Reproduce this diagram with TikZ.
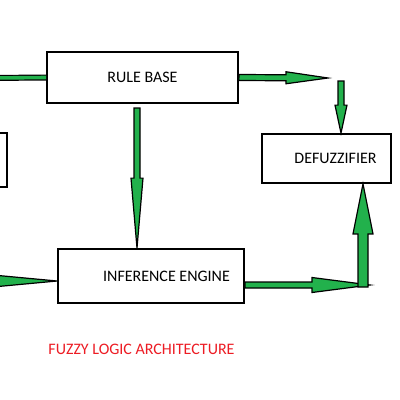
\documentclass[tikz,border=0pt]{standalone}
\usepackage{fontspec}
\setmainfont{Carlito}
\usetikzlibrary{calc}
\definecolor{flowgreen}{RGB}{34,177,76}
\definecolor{titlered}{RGB}{237,28,36}
\def\fatarrow[#1](#2)(#3)(#4:#5:#6){\coordinate (fa base) at ($(#3)!#5!(#2)$);
	\draw[#1] ($(#2)!#4!90:(#3)$) -- ($(fa base)!#4!90:(#3)$) -- ($(fa base)!#6!90:(#3)$) -- (#3) -- ($(fa base)!#6!-90:(#3)$) -- ($(fa base)!#4!-90:(#3)$) -- ($(#2)!#4!-90:(#3)$) -- cycle;}

\begin{document}
\begin{tikzpicture}[x=1pt, y=-1pt,
		block/.style={draw=black, line width=1.8pt, fill=white, inner sep=0pt, font=\fontsize{16}{19}\selectfont},
		fatflow/.style={draw=black, line width=1.2pt, fill=flowgreen, line join=miter},
		feedline/.style={draw=black, line width=1.2pt, double=flowgreen, double distance=3.6pt}]
			%%%%% START %%%%%
			
			\useasboundingbox (0, 0) rectangle (400, 400);
			\clip (0, 0) rectangle (400, 400);
			\fill[white] (0, 0) rectangle (400, 400);
			
			\node[block, minimum width=191pt, minimum height=51pt] (rulebase) at (142.5, 77.5) {RULE BASE};
			\node[block, minimum width=186pt, minimum height=54pt] (inference) at (151, 276) {\hspace*{31pt}INFERENCE ENGINE};
			\node[block, minimum width=129pt, minimum height=49pt] (defuzz) at (326.5, 158.5) {\hspace*{18pt}DEFUZZIFIER};
			\node[block, minimum width=80pt, minimum height=54pt] (fuzzifier) at (-33, 160) {};
			
			\coordinate (rb in) at (-10, 78);
			\coordinate (rb corner) at (328, 78);
			\coordinate (df top) at (341, 81);
			\coordinate (df entry) at (defuzz.north -| df top);
			\coordinate (rb out) at (137, 108);
			\coordinate (ie entry) at (inference.north -| rb out);
			\coordinate (ie in) at (-30, 281);
			\coordinate (ie feed) at (inference.west |- ie in);
			\coordinate (ie out) at (inference.east |- 0,285);
			\coordinate (df corner) at (370, 285);
			\coordinate (df low) at (363, 287);
			\coordinate (df bottom) at (defuzz.south -| df low);
			
			\draw[feedline] (rb in) -- (rulebase.west);
			\fatarrow[fatflow](rulebase.east)(rb corner)(3pt:42pt:6pt)
			\fatarrow[fatflow](df top)(df entry)(3pt:28pt:6pt)
			\fatarrow[fatflow](rb out)(ie entry)(3pt:70pt:6pt)
			\fatarrow[fatflow](ie in)(ie feed)(3pt:75pt:7pt)
			\fatarrow[fatflow](ie out)(df corner)(3pt:58pt:7.5pt)
			\fatarrow[fatflow](df low)(df bottom)(5pt:50pt:10pt)
			
			\node[font=\fontsize{16}{19}\selectfont, text=titlered] (title) at (141.5, 349) {FUZZY LOGIC ARCHITECTURE};
			
			%%%%% END %%%%%
\end{tikzpicture}
\end{document}
